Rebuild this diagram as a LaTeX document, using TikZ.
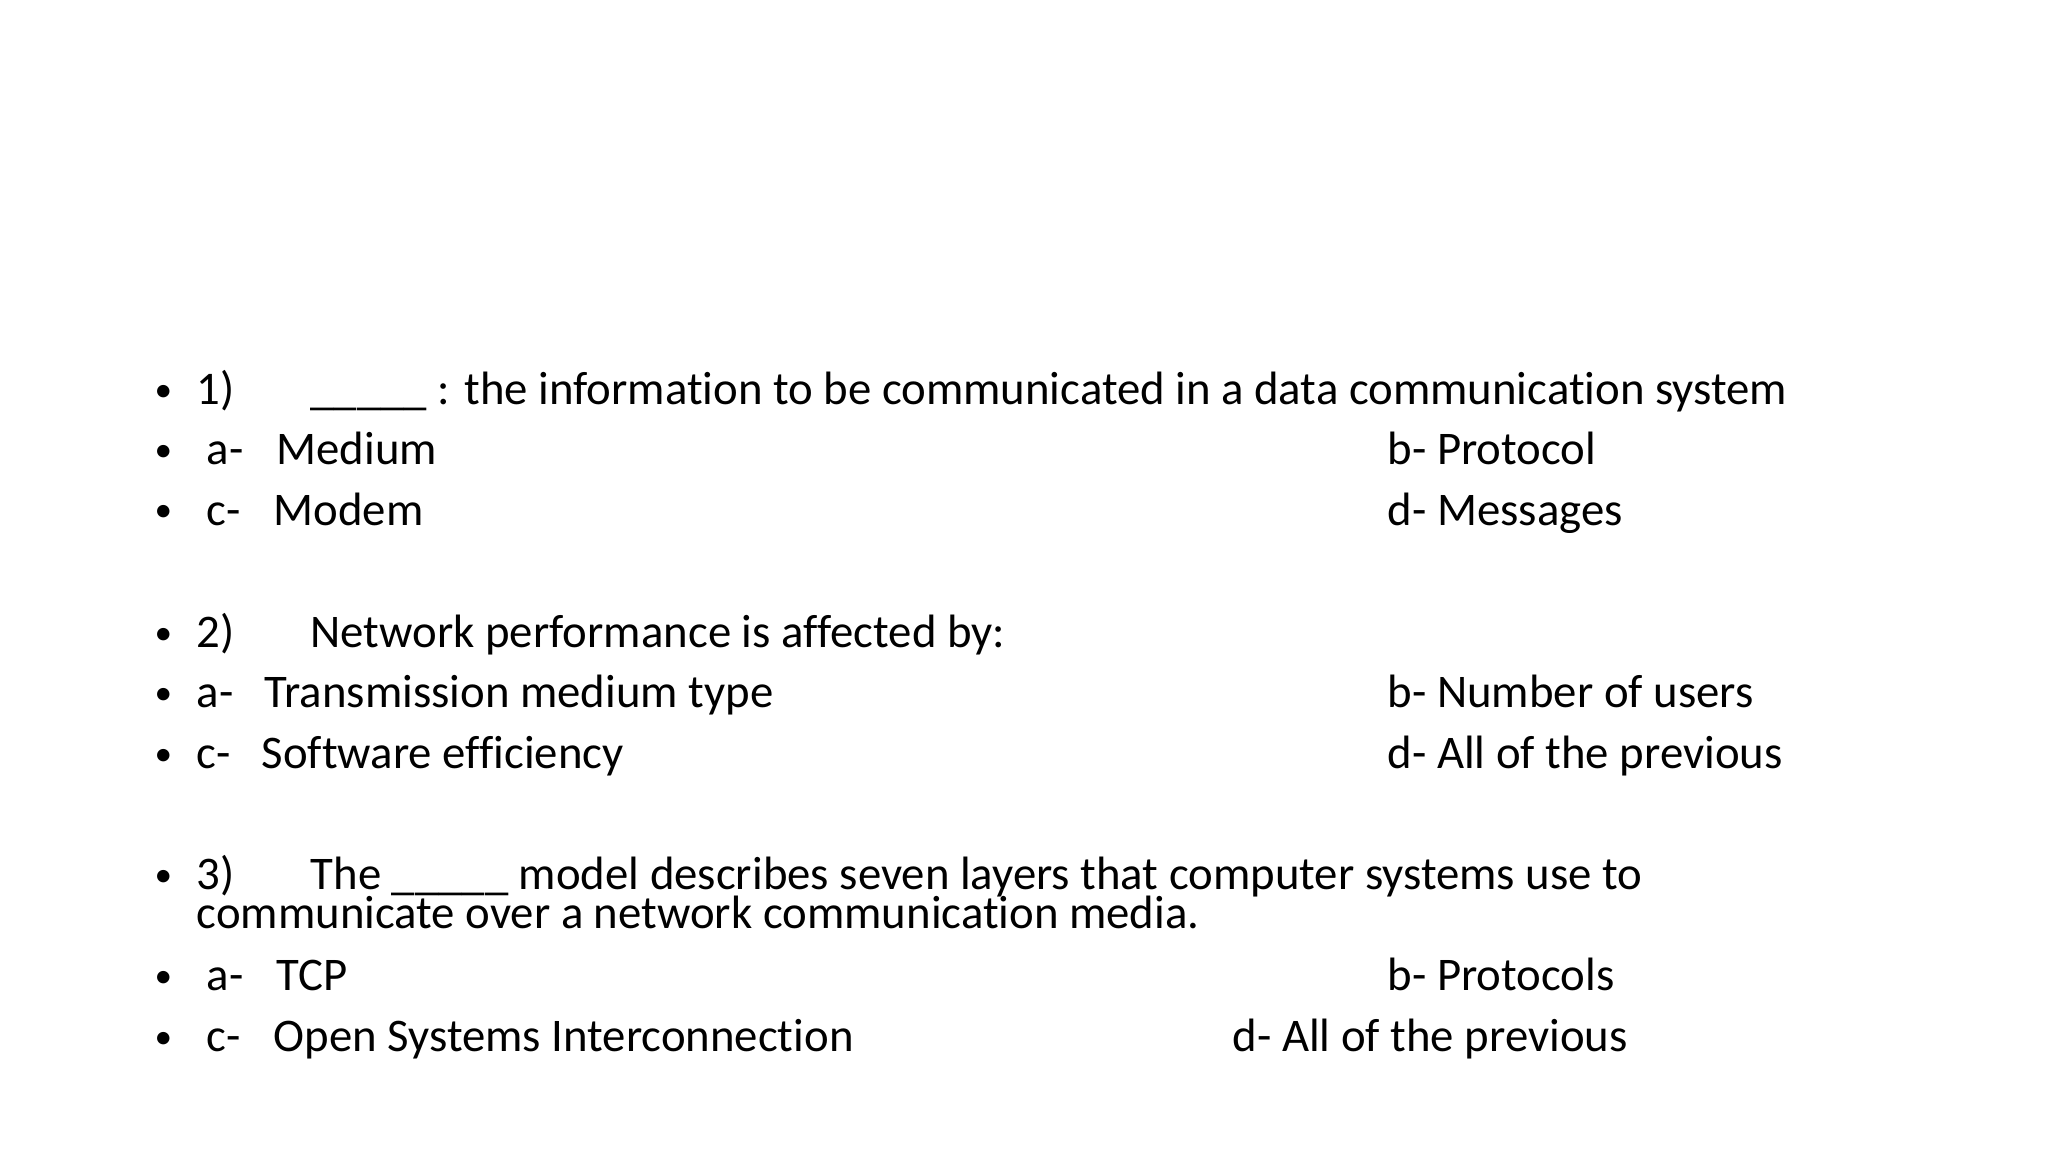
\documentclass[tikz,border=0pt]{standalone}
\usepackage{fontspec}
\setmainfont[Ligatures={NoCommon}]{Carlito}
\tikzset{t/.style={anchor=base west,inner sep=0pt,font=\fontsize{13.3pt}{14pt}\selectfont}}
\begin{document}
\begin{tikzpicture}[x=0.01cm,y=-0.01cm]
\useasboundingbox (0,0) rectangle (2048,1152);
\foreach \y [count=\i] in {405,465,525,647,707,768,889,990,1051}
  \node[t,font=\fontsize{10pt}{11pt}\selectfont] (b\i) at (154,\y-3) {•};
\node[t] (q1) at (196,405) {1)};
\node[t] (q1t) at (310,405) {\_\_\_\_\_ : the information to be communicated in a data communication system};
\node[t] (q1a) at (206,465) {a-};\node[t] (q1at) at (276,465) {Medium};
\node[t] (q1b) at (1387,465) {b- Protocol};
\node[t] (q1c) at (206,525) {c-};\node[t] (q1ct) at (273,525) {Modem};
\node[t] (q1d) at (1387,525) {d- Messages};
\node[t] (q2) at (196,647) {2)};
\node[t] (q2t) at (310,647) {Network performance is affected by:};
\node[t] (q2a) at (196,707) {a-};\node[t] (q2at) at (264,707) {Transmission medium type};
\node[t] (q2b) at (1387,707) {b- Number of users};
\node[t] (q2c) at (196,768) {c-};\node[t] (q2ct) at (261,768) {Software efficiency};
\node[t] (q2d) at (1387,768) {d- All of the previous};
\node[t] (q3) at (196,889) {3)};
\node[t] (q3t) at (310,889) {The \_\_\_\_\_ model describes seven layers that computer systems use to};
\node[t] (q3t2) at (196,928) {communicate over a network communication media.};
\node[t] (q3a) at (206,990) {a-};\node[t] (q3at) at (276,990) {TCP};
\node[t] (q3b) at (1387,990) {b- Protocols};
\node[t] (q3c) at (206,1051) {c-};\node[t] (q3ct) at (273,1051) {Open Systems Interconnection};
\node[t] (q3d) at (1232,1051) {d- All of the previous};
\end{tikzpicture}
\end{document}
